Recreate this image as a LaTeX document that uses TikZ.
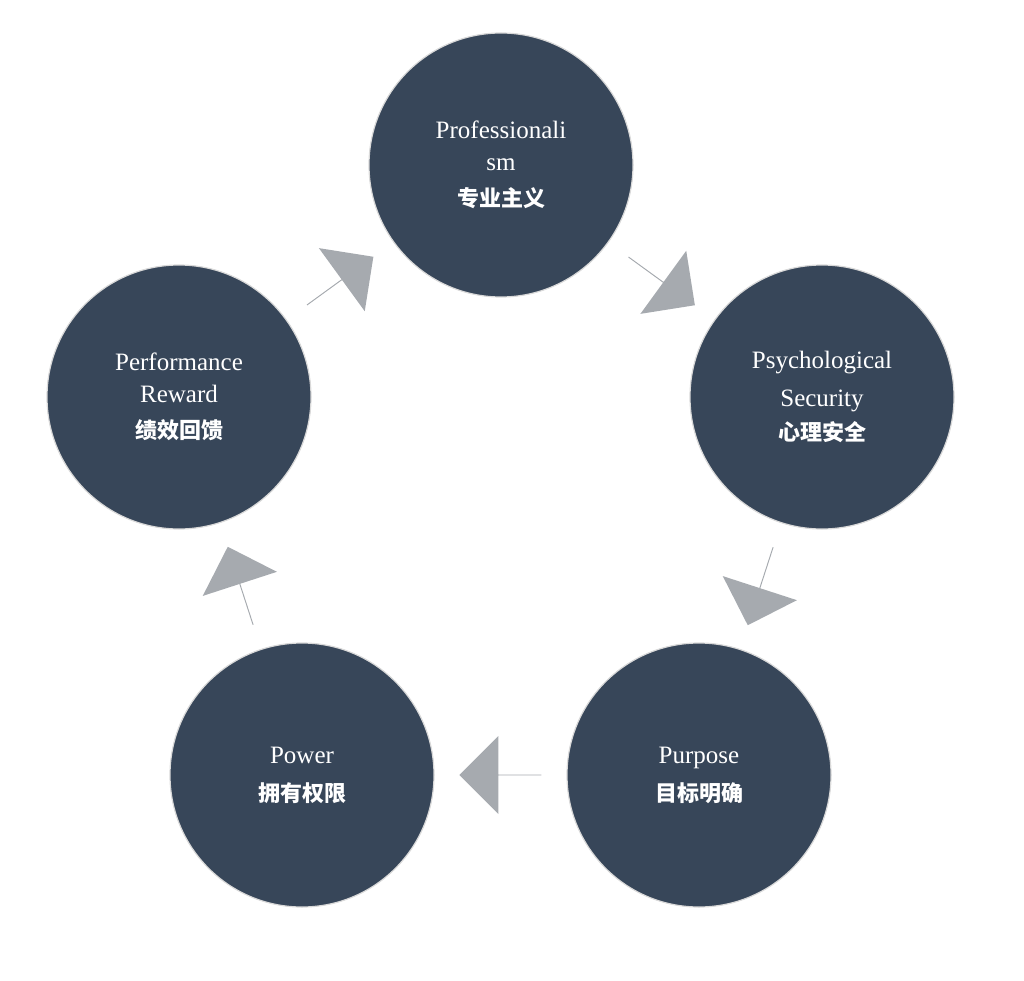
\documentclass[tikz,border=0pt]{standalone}
\usepackage{fontspec}
\setmainfont{Liberation Serif}
\newfontfamily\cjk{Noto Sans CJK SC}
\usetikzlibrary{shapes.arrows,calc}
\definecolor{circ}{HTML}{374659}
\definecolor{arr}{HTML}{A6AAAF}
\begin{document}
\begin{tikzpicture}[x=1pt,y=-1pt,
  c/.style={circle,fill=circ,draw=gray!30,line width=1.2pt,minimum size=264pt,text=white,align=center,font=\fontsize{25}{32}\selectfont},
  a/.style={single arrow,fill=arr,minimum height=82pt,minimum width=78pt,single arrow head extend=16pt,inner sep=0pt}]
\useasboundingbox (0,0) rectangle (1024,981);
\node[c] (p1) at (501,165) {Professionali\\sm\\[4pt]{\cjk\bfseries\fontsize{22}{28}\selectfont 专业主义}};
\node[c] (p2) at (822,397) {Psychological\\[6pt]Security\\[2pt]{\cjk\bfseries\fontsize{22}{28}\selectfont 心理安全}};
\node[c] (p3) at (699,775) {Purpose\\[6pt]{\cjk\bfseries\fontsize{22}{28}\selectfont 目标明确}};
\node[c] (p4) at (302,775) {Power\\[6pt]{\cjk\bfseries\fontsize{22}{28}\selectfont 拥有权限}};
\node[c] (p5) at (179,397) {Performance\\Reward\\[4pt]{\cjk\bfseries\fontsize{22}{28}\selectfont 绩效回馈}};
\node[a,rotate=36] (a1) at ($(p5)!0.5!(p1)$) {};
\node[a,rotate=-36] (a2) at ($(p1)!0.5!(p2)$) {};
\node[a,rotate=-108] (a3) at ($(p2)!0.5!(p3)$) {};
\node[a,rotate=180] (a4) at ($(p3)!0.5!(p4)$) {};
\node[a,rotate=108] (a5) at ($(p4)!0.5!(p5)$) {};
\end{tikzpicture}
\end{document}
